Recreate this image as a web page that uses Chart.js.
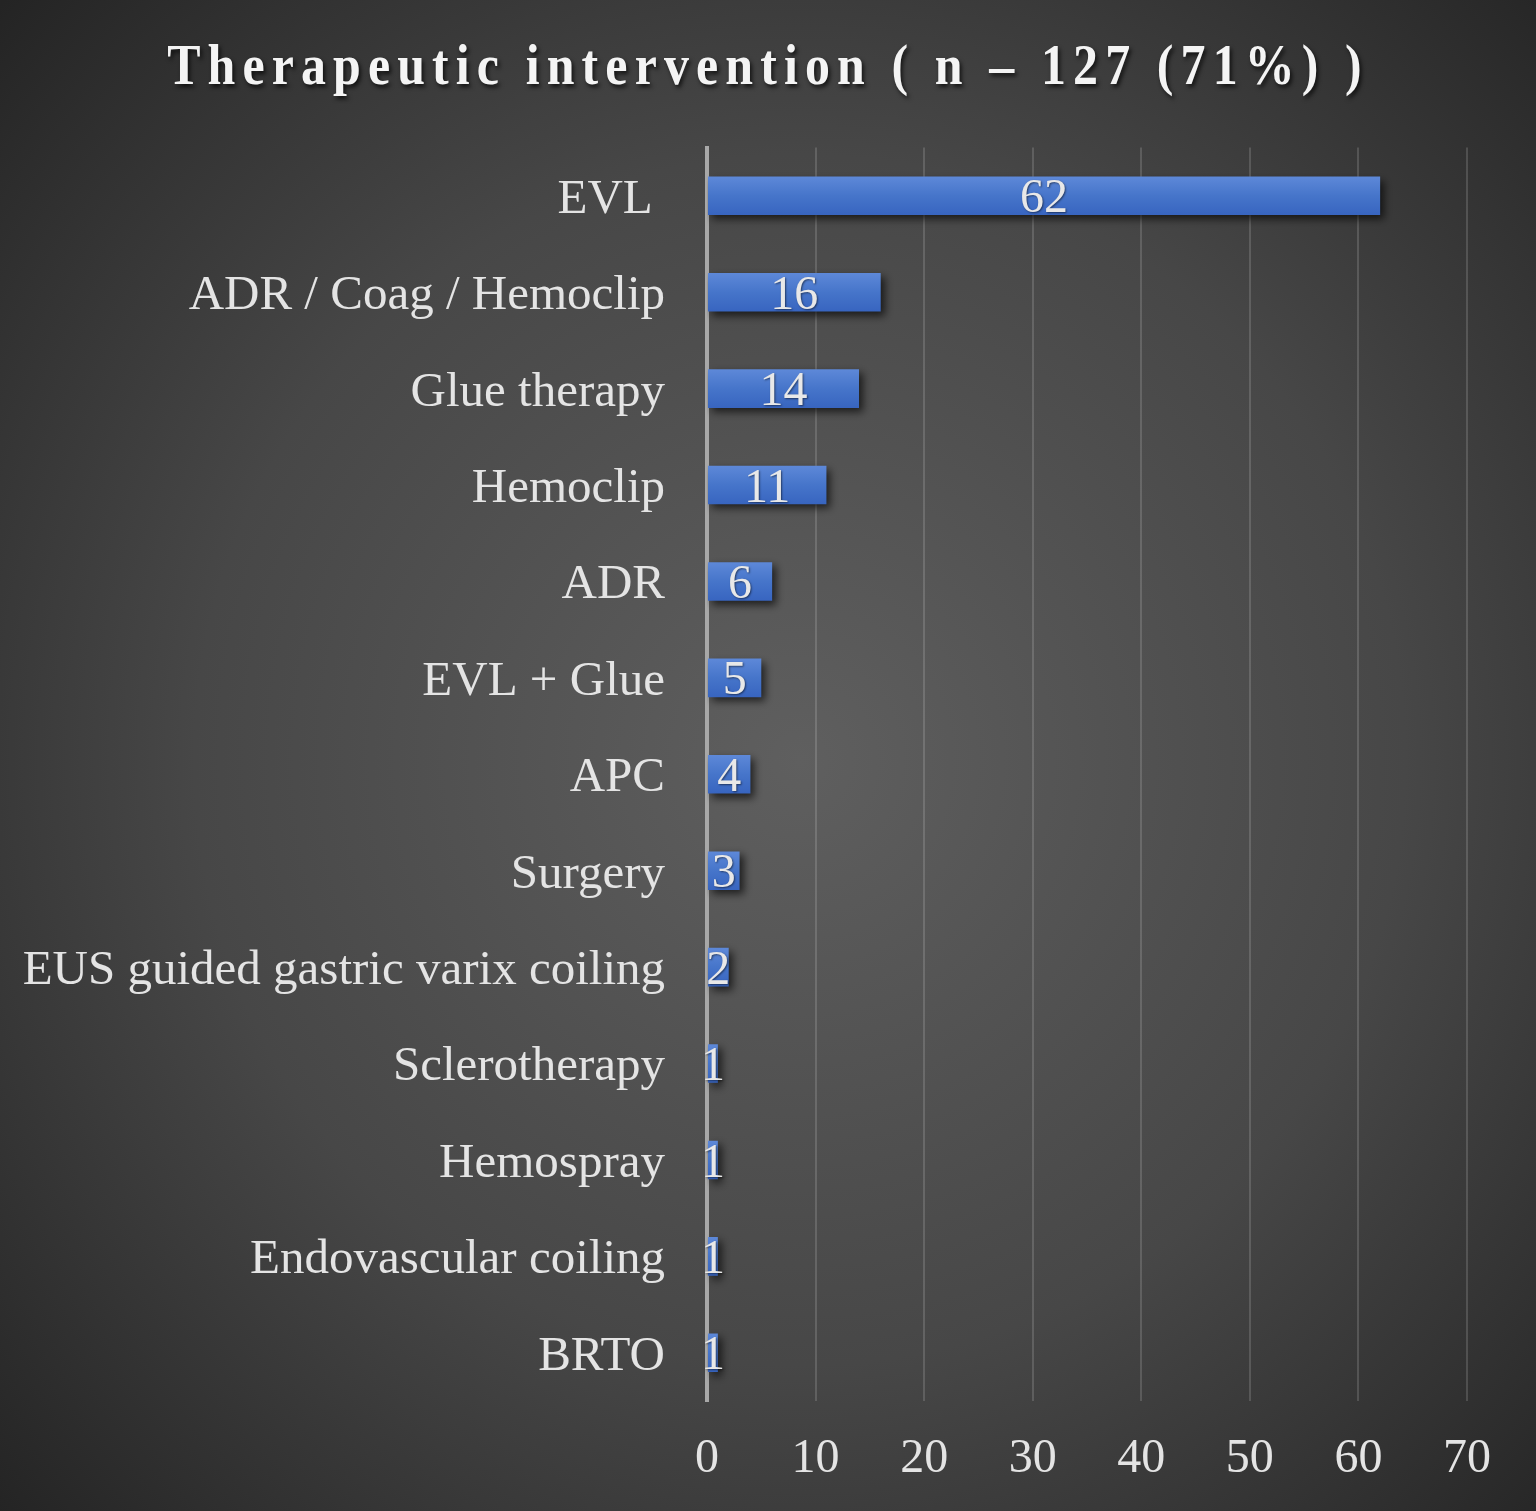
<!DOCTYPE html>
<html>
<head>
<meta charset="utf-8">
<script src="https://cdn.jsdelivr.net/npm/chart.js@4.4.1/dist/chart.umd.min.js"></script>
<style>
  html, body { margin: 0; padding: 0; background: #2b2b2b; }
  #wrap { width: 1536px; height: 1511px; position: relative; }
</style>
</head>
<body>
<div id="wrap"><canvas id="c" width="1536" height="1511"></canvas></div>
<script>
const titleText = 'Therapeutic intervention ( n \u2013 127 (71%) )';
const categories = ['EVL ', 'ADR / Coag / Hemoclip', 'Glue therapy', 'Hemoclip', 'ADR', 'EVL + Glue', 'APC', 'Surgery', 'EUS guided gastric varix coiling', 'Sclerotherapy', 'Hemospray', 'Endovascular coiling', 'BRTO'];
const counts = [62, 16, 14, 11, 6, 5, 4, 3, 2, 1, 1, 1, 1];
const xTicks = [0, 10, 20, 30, 40, 50, 60, 70];

const SERIF = '"Liberation Serif", "Times New Roman", serif';

const bgPlugin = {
  id: 'bg',
  beforeDraw(chart) {
    const ctx = chart.ctx;
    const w = chart.width, h = chart.height;
    ctx.save();
    const g = ctx.createRadialGradient(800, 760, 0, 800, 760, 1100);
    g.addColorStop(0, '#5f5f5f');
    g.addColorStop(0.55, '#474747');
    g.addColorStop(1, '#242424');
    ctx.fillStyle = g;
    ctx.fillRect(0, 0, w, h);
    ctx.restore();
    const tb = chart.titleBlock;
    if (tb && !tb._wrapped) {
      const orig = tb.draw.bind(tb);
      tb.draw = function () {
        const c = this.ctx;
        c.save();
        const cx = this.left + this.width / 2;
        const target = chart.width / 2;
        c.translate(target, 0);
        c.scale(0.86, 1);
        c.translate(-cx, 0);
        c.letterSpacing = '8.3px';
        c.shadowColor = 'rgba(0,0,0,0.7)';
        c.shadowBlur = 4;
        c.shadowOffsetX = 2;
        c.shadowOffsetY = 3;
        orig();
        c.restore();
      };
      tb._wrapped = true;
    }
  }
};

const shadowPlugin = {
  id: 'barShadow',
  beforeDatasetsDraw(chart) {
    const ctx = chart.ctx;
    ctx.save();
    ctx.shadowColor = 'rgba(0,0,0,0.65)';
    ctx.shadowBlur = 8;
    ctx.shadowOffsetX = 4;
    ctx.shadowOffsetY = 4;
  },
  afterDatasetsDraw(chart) {
    chart.ctx.restore();
    const ctx = chart.ctx;
    const meta = chart.getDatasetMeta(0);
    const data = chart.data.datasets[0].data;
    ctx.save();
    ctx.font = '48px ' + SERIF;
    ctx.fillStyle = '#e8e8e8';
    ctx.textAlign = 'center';
    ctx.textBaseline = 'middle';
    ctx.shadowColor = 'rgba(0,0,0,0.5)';
    ctx.shadowBlur = 2;
    ctx.shadowOffsetX = 1;
    ctx.shadowOffsetY = 1;
    meta.data.forEach((bar, i) => {
      const cx = (bar.x + bar.base) / 2;
      ctx.fillText(String(data[i]), cx, bar.y + 4);
    });
    ctx.restore();
  }
};

new Chart(document.getElementById('c'), {
  type: 'bar',
  data: {
    labels: categories,
    datasets: [{
      data: counts,
      backgroundColor(context) {
        const chart = context.chart;
        const ys = chart.scales && chart.scales.y;
        if (!ys || context.dataIndex === undefined) return '#4472c4';
        const yp = ys.getPixelForValue(context.dataIndex);
        if (!isFinite(yp)) return '#4472c4';
        const g = chart.ctx.createLinearGradient(0, yp - 19, 0, yp + 19);
        g.addColorStop(0, '#5d88d8');
        g.addColorStop(0.5, '#4675ca');
        g.addColorStop(1, '#3865c0');
        return g;
      },
      borderWidth: 0,
      categoryPercentage: 1,
      barPercentage: 0.4
    }]
  },
  options: {
    indexAxis: 'y',
    responsive: false,
    animation: false,
    layout: { padding: { left: 0, right: 69, top: 0, bottom: 0 } },
    plugins: {
      legend: { display: false },
      tooltip: { enabled: false },
      title: {
        display: true,
        text: titleText,
        color: '#f4f4f4',
        font: { family: SERIF, size: 58, weight: 'bold' },
        padding: { top: 34, bottom: 44 }
      }
    },
    scales: {
      x: {
        type: 'linear',
        min: 0,
        max: 70,
        afterBuildTicks(scale) { scale.ticks = xTicks.map(v => ({ value: v })); },
        afterFit(scale) { scale.height = 110; },
        grid: { color: 'rgba(255,255,255,0.15)', lineWidth: 2, drawTicks: false },
        border: { display: false },
        ticks: { color: '#e4e4e4', font: { family: SERIF, size: 48 }, padding: 30 }
      },
      y: {
        afterFit(scale) { scale.width = 707; },
        grid: { display: false, drawTicks: false },
        border: { display: true, color: '#a8a8a8', width: 4 },
        ticks: { color: '#e4e4e4', font: { family: SERIF, size: 49 }, padding: 42, labelOffset: 4 }
      }
    }
  },
  plugins: [bgPlugin, shadowPlugin]
});
</script>
</body>
</html>
